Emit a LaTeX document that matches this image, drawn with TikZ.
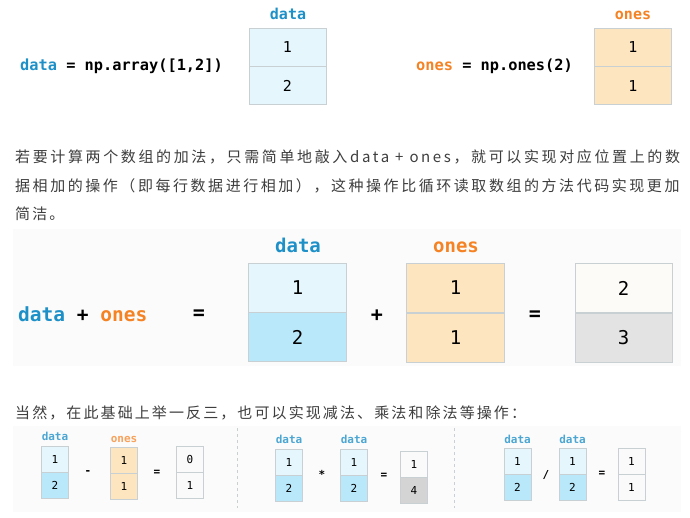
\documentclass[tikz,border=0pt]{standalone}
\usepackage{fontspec}
\setmonofont{DejaVu Sans Mono}
\newfontfamily\cjk{Noto Sans CJK SC}
\usetikzlibrary{positioning}
\definecolor{datablue}{RGB}{30,144,200}
\definecolor{onesorange}{RGB}{245,130,35}
\definecolor{datalight}{RGB}{229,246,253}
\definecolor{datadark}{RGB}{185,232,251}
\definecolor{onesfill}{RGB}{253,229,192}
\definecolor{restop}{RGB}{253,251,248}
\definecolor{resbot}{RGB}{227,227,227}
\definecolor{resgray}{RGB}{212,212,212}
\definecolor{reswhite}{RGB}{250,250,250}
\definecolor{cellline}{RGB}{200,208,212}
\definecolor{txtgray}{RGB}{62,62,62}
\definecolor{panelbg}{RGB}{251,251,251}
\tikzset{
    cellt/.style = {rectangle, draw=cellline, line width=0.8pt, minimum width=77pt, minimum height=38pt, inner sep=0pt, font=\ttfamily\fontsize{15}{18}\selectfont},
    cellb/.style = {rectangle, draw=cellline, line width=0.8pt, minimum width=98pt, minimum height=49pt, inner sep=0pt, font=\ttfamily\fontsize{19}{22}\selectfont},
    cellsm/.style = {rectangle, draw=cellline, line width=0.7pt, minimum width=27pt, minimum height=26pt, inner sep=0pt, font=\ttfamily\fontsize{11}{13}\selectfont},
    code/.style = {anchor=west, inner sep=0pt, font=\ttfamily\bfseries\fontsize{15.3}{18}\selectfont},
    codeb/.style = {anchor=west, inner sep=0pt, font=\ttfamily\bfseries\fontsize{19.5}{22}\selectfont},
    labt/.style = {anchor=base, inner sep=0pt, font=\ttfamily\bfseries\fontsize{15}{18}\selectfont},
    labb/.style = {anchor=base, inner sep=0pt, font=\ttfamily\bfseries\fontsize{19}{22}\selectfont},
    labs/.style = {anchor=base, inner sep=0pt, font=\ttfamily\bfseries\fontsize{11}{13}\selectfont},
    opb/.style = {inner sep=0pt, font=\ttfamily\bfseries\fontsize{20}{22}\selectfont},
    ops/.style = {inner sep=0pt, font=\ttfamily\bfseries\fontsize{11}{13}\selectfont},
    para/.style = {anchor=west, inner sep=0pt, text=txtgray, font=\cjk\fontsize{15}{18}\selectfont},
    sepline/.style = {draw=cellline, dashed, line width=0.6pt}
}
\begin{document}
\begin{tikzpicture}[x=1pt,y=-1pt]
\useasboundingbox[fill=white] (0,0) rectangle (690,517);
\fill[panelbg] (13,229) rectangle (681,366);
\fill[panelbg] (13,426) rectangle (681,512);
%
% top row
\node[code] at (20,66) (codedata) {{\color{datablue}data} = np.array([1,2])};
\node[labt,datablue] at (288,19) (labd) {data};
\node[cellt,fill=datalight] at (287.5,47) (td1) {1};
\node[cellt,fill=datalight,below=0pt of td1] (td2) {2};
\node[code] at (416,66) (codeones) {{\color{onesorange}ones} = np.ones(2)};
\node[labt,onesorange] at (633,19) (labo) {ones};
\node[cellt,fill=onesfill] at (633,47) (to1) {1};
\node[cellt,fill=onesfill,below=0pt of to1] (to2) {1};
%
% paragraph
\node[para] at (15,157) (p1) {\addfontfeature{LetterSpace=17.5}若要计算两个数组的加法，只需简单地敲入data + ones，就可以实现对应位置上的数};
\node[para] at (15,186) (p2) {\addfontfeature{LetterSpace=17}据相加的操作（即每行数据进行相加），这种操作比循环读取数组的方法代码实现更加};
\node[para] at (15,214) (p3) {\addfontfeature{LetterSpace=14}简洁。};
%
% data + ones
\node[codeb] at (18,314) (sum) {{\color{datablue}data} + {\color{onesorange}ones}};
\node[opb] at (199,315) (eq1) {=};
\node[labb,datablue] at (298,252) (bd) {data};
\node[cellb,fill=datalight] at (297.5,287.5) (bd1) {1};
\node[cellb,fill=datadark,below=0pt of bd1] (bd2) {2};
\node[opb] at (377,316) (plus) {+};
\node[labb,onesorange] at (456,252) (bo) {ones};
\node[cellb,fill=onesfill] at (455.5,288) (bo1) {1};
\node[cellb,fill=onesfill,below=0pt of bo1] (bo2) {1};
\node[opb] at (535,316) (eq2) {=};
\node[cellb,fill=restop,minimum width=97pt] at (623.5,288) (br1) {2};
\node[cellb,fill=resbot,minimum width=97pt,below=0pt of br1] (br2) {3};
%
\node[para] at (15,413) (p4) {\addfontfeature{LetterSpace=14}当然，在此基础上举一反三，也可以实现减法、乘法和除法等操作：};
%
% minus
\node[labs,datablue!80] at (55,440) (sd) {data};
\node[cellsm,fill=datalight] at (55,459) (sd1) {1};
\node[cellsm,fill=datadark,below=0pt of sd1] (sd2) {2};
\node[ops] at (88,473) (minus) {-};
\node[labs,onesorange!75] at (124,442) (so) {ones};
\node[cellsm,fill=onesfill] at (124,460) (so1) {1};
\node[cellsm,fill=onesfill,below=0pt of so1] (so2) {1};
\node[ops] at (157,473) (eq3) {=};
\node[cellsm,fill=reswhite] at (190,459) (sr1) {0};
\node[cellsm,fill=reswhite,below=0pt of sr1] (sr2) {1};
\draw[sepline] (237,428) -- (237,508);
%
% times
\node[labs,datablue!80] at (289,443) (md) {data};
\node[cellsm,fill=datalight] at (289,462) (md1) {1};
\node[cellsm,fill=datadark,below=0pt of md1] (md2) {2};
\node[ops] at (322,474) (times) {*};
\node[labs,datablue!80] at (354,443) (me) {data};
\node[cellsm,fill=datalight] at (354,462) (me1) {1};
\node[cellsm,fill=datadark,below=0pt of me1] (me2) {2};
\node[ops] at (384,476) (eq4) {=};
\node[cellsm,fill=reswhite] at (414,464) (mr1) {1};
\node[cellsm,fill=resgray,below=0pt of mr1] (mr2) {4};
\draw[sepline] (454,428) -- (454,508);
%
% divide
\node[labs,datablue!80] at (517.5,443) (dd) {data};
\node[cellsm,fill=datalight] at (517.5,461) (dd1) {1};
\node[cellsm,fill=datadark,below=0pt of dd1] (dd2) {2};
\node[ops] at (546,475) (divide) {/};
\node[labs,datablue!80] at (572.5,443) (de) {data};
\node[cellsm,fill=datalight] at (572.5,461) (de1) {1};
\node[cellsm,fill=datadark,below=0pt of de1] (de2) {2};
\node[ops] at (602,474) (eq5) {=};
\node[cellsm,fill=reswhite] at (631.5,461) (dr1) {1};
\node[cellsm,fill=reswhite,below=0pt of dr1] (dr2) {1};
\end{tikzpicture}
\end{document}
